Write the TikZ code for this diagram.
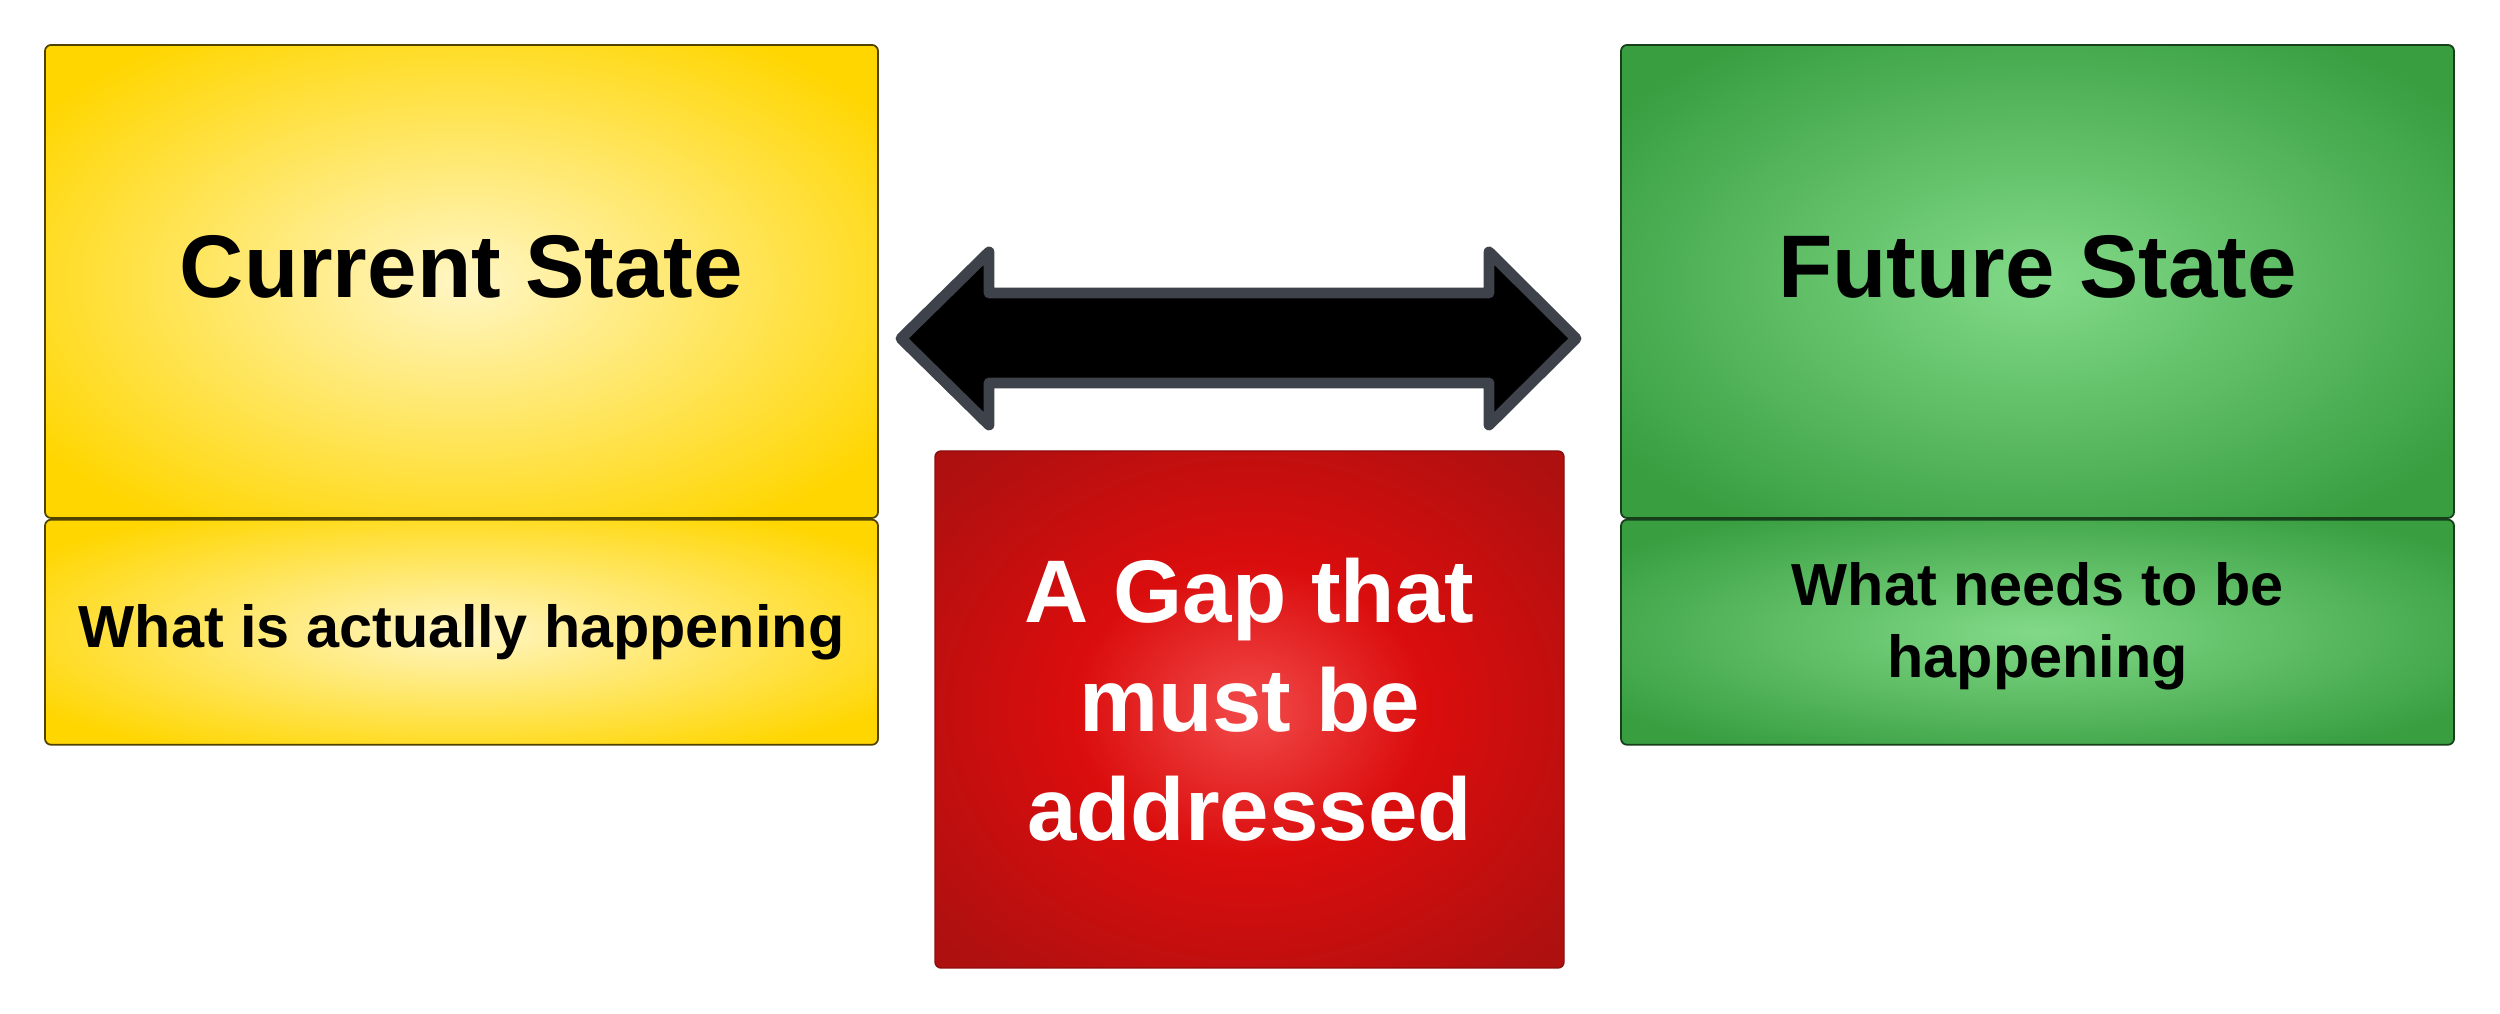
\documentclass[tikz,border=0pt]{standalone}
\usepackage{fontspec}
\setmainfont{Liberation Sans}
\usepackage{tikz}
\usetikzlibrary{positioning}
\definecolor{yelloweg}{HTML}{FFD600}
\definecolor{yellowmid}{HTML}{FFF6C4}
\definecolor{greeneg}{HTML}{389E40}
\definecolor{greenmid}{HTML}{82DA88}
\definecolor{redeg}{HTML}{AE1010}
\definecolor{redmid}{HTML}{F24A4A}
\definecolor{arrowline}{HTML}{3D424B}
\pgfdeclareradialshading{yelshade}{\pgfpoint{0bp}{0bp}}{color(0bp)=(yellowmid); color(31bp)=(yelloweg); color(50bp)=(yelloweg)}
\pgfdeclareradialshading{grnshade}{\pgfpoint{0bp}{0bp}}{color(0bp)=(greenmid); color(31bp)=(greeneg); color(50bp)=(greeneg)}
\pgfdeclareradialshading{redshade}{\pgfpoint{0bp}{0bp}}{color(0bp)=(redmid); color(14bp)=(red!85!black!95!white); color(33bp)=(redeg); color(50bp)=(redeg)}
\newcommand\hdfont{\fontsize{25.3pt}{31pt}\selectfont\bfseries}
\newcommand\txfont{\fontsize{16.9pt}{20.6pt}\selectfont\bfseries}
\tikzset{
  yellowbox/.style={draw=black!55!yelloweg!70!black, line width=0.5pt, rounded corners=0.06cm,
    shade, shading=yelshade, minimum width=8.33cm, inner sep=0pt},
  greenbox/.style={draw=black!60!greeneg, line width=0.5pt, rounded corners=0.06cm,
    shade, shading=grnshade, minimum width=8.33cm, inner sep=0pt, align=center},
  redbox/.style={draw=redeg!80!black, line width=0.4pt, rounded corners=0.06cm,
    shade, shading=redshade, text=white, align=center, inner sep=0pt},
  bigarrow/.style={fill=black, draw=arrowline, line width=3.1pt, line join=round}
}
\begin{document}
\begin{tikzpicture}
  \useasboundingbox (0,0) rectangle (25,10.14);
  % left side
  \node[yellowbox, minimum height=4.73cm, text depth=0.3cm, font=\hdfont] (cur) at (4.615,7.325) {Current State};
  \node[yellowbox, minimum height=2.25cm, below=0pt of cur, font=\txfont] (curtxt) {What is actually happening};
  % right side
  \node[greenbox, minimum height=4.73cm, text depth=0.3cm, font=\hdfont] (fut) at (20.375,7.325) {Future State};
  \node[greenbox, minimum height=2.25cm, below=0pt of fut, text depth=0.25cm, font=\txfont] (futtxt) {What needs to be\\happening};
  % gap
  \node[redbox, minimum width=6.29cm, minimum height=5.17cm, text depth=0.2cm, font=\hdfont] (gap) at (12.495,3.045) {A Gap that\\must be\\addressed};
  \draw[bigarrow] (9.01,6.755) -- (9.89,7.62) -- (9.89,7.21) -- (14.89,7.21) -- (14.89,7.62)
    -- (15.76,6.755) -- (14.89,5.89) -- (14.89,6.31) -- (9.89,6.31) -- (9.89,5.89) -- cycle;
\end{tikzpicture}
\end{document}
